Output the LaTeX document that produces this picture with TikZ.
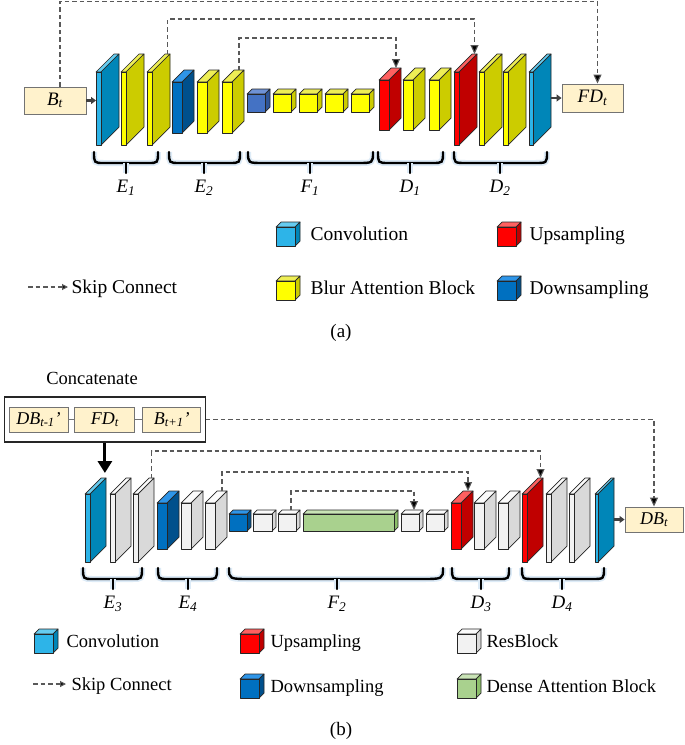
\documentclass[tikz,border=0pt]{standalone}
\usepackage{fontspec}
\setmainfont{Liberation Serif}
\usetikzlibrary{positioning,arrows.meta,fit}

\definecolor{convF}{HTML}{2DB4E8}\definecolor{convS}{HTML}{0086B8}\definecolor{convT}{HTML}{66CCF0}
\definecolor{blurF}{HTML}{FFFF00}\definecolor{blurS}{HTML}{CCCC00}\definecolor{blurT}{HTML}{EEEE55}
\definecolor{upF}{HTML}{FF0000}\definecolor{upS}{HTML}{C00000}\definecolor{upT}{HTML}{FF6060}
\definecolor{downF}{HTML}{0070C0}\definecolor{downS}{HTML}{00508C}\definecolor{downT}{HTML}{2E95E8}
\definecolor{poolF}{HTML}{4472C4}\definecolor{poolS}{HTML}{2F5597}\definecolor{poolT}{HTML}{6E92D6}
\definecolor{resF}{HTML}{F2F2F2}\definecolor{resS}{HTML}{D9D9D9}\definecolor{resT}{HTML}{FBFBFB}
\definecolor{denseF}{HTML}{A9D18E}\definecolor{denseS}{HTML}{8CBF6A}\definecolor{denseT}{HTML}{C9E3B6}
\definecolor{boxfill}{HTML}{FFF2CC}
\definecolor{glow}{HTML}{DDEBF7}
\definecolor{skipgray}{HTML}{595959}

\tikzset{
  edge/.style={draw=black!85, line width=0.7pt, line join=round},
  inbox/.style={draw=black!55, fill=boxfill, line width=0.9pt, minimum height=27pt,
    inner xsep=2pt, font=\fontsize{19}{22}\selectfont\itshape},
  catbox/.style={draw=black!85, line width=1.2pt, inner xsep=4pt, inner ysep=9.5pt},
  link/.style={draw=black!55, line width=0.9pt},
  skip/.style={draw=skipgray, line width=1.1pt, dash pattern=on 4.5pt off 3pt,
    -{Triangle[width=8pt,length=9pt,fill=black]}},
  feed/.style={draw=black!75, line width=2.5pt, -{Triangle[width=7pt,length=5pt]}},
  bigfeed/.style={draw=black, line width=3pt, -{Triangle[width=14pt,length=12pt]}},
  brace/.style={line width=2.4pt, line cap=round, preaction={draw=glow, line width=6pt}},
  lblE/.style={font=\fontsize{19}{22}\selectfont\itshape},
  legtxt/.style={font=\fontsize{19.5}{22}\selectfont, anchor=base west},
  legtxtb/.style={font=\fontsize{18.5}{21}\selectfont, anchor=base west},
  captxt/.style={font=\fontsize{19}{22}\selectfont}
}

\newcommand{\blk}[7]{%
  \draw[edge, fill=#7T] (#2,#3) -- ++(#6,-#6) -- ++(#4,0) -- (#2+#4,#3) -- cycle;
  \draw[edge, fill=#7S] (#2+#4,#3) -- ++(#6,-#6) -- ++(0,#5) -- (#2+#4,#3+#5) -- cycle;
  \draw[edge, fill=#7F] (#2,#3) rectangle ++(#4,#5);
  \coordinate (#1) at (#2+#4/2+#6,#3-#6);
  \coordinate (#1-in) at (#2,#3+#5/2);
  \coordinate (#1-out) at (#2+#4+#6,#3+#5/2-#6);
}
\newcommand{\legcube}[4]{\blk{#1}{#2}{#3}{19}{19}{5}{#4}\coordinate (#1-base) at (#2+24,#3+13);}
\newcommand{\brc}[7]{%
  \draw[brace] (#2,#5) .. controls (#2,#5+11) .. (#2+#6,#5+11) -- (#3-#6,#5+11)
    .. controls (#3,#5+11) .. (#3,#5);
  \draw[brace] (#4,#5+11) -- (#4,#5+21);
  \coordinate (#1-tip) at (#4,#5+21);
  \node[lblE, below=4pt of #1-tip] (#1) {#7};
}

\begin{document}
\begin{tikzpicture}[x=1pt, y=-1pt]
\useasboundingbox[fill=white] (0,0) rectangle (685,745);

\node[inbox, minimum width=62pt] (bt) at (55,100.5) {B\textsubscript{t}};
\node[inbox, minimum width=61pt, minimum height=28pt] (fd) at (592.5,98) {FD\textsubscript{t}};

\blk{e1c}{96}{72}{5}{73}{18}{conv}
\blk{e1b1}{121}{72}{5}{73}{18}{blur}
\blk{e1b2}{147}{72}{5}{73}{18}{blur}
\blk{e2d}{172}{82}{10}{51}{12}{down}
\blk{e2b1}{197}{82}{10}{51}{12}{blur}
\blk{e2b2}{222}{82}{10}{51}{12}{blur}
\blk{f1p}{247}{94}{18}{18}{5}{pool}
\foreach \i/\x in {1/273,2/299,3/325,4/351} {\blk{f1b\i}{\x}{94}{18}{18}{5}{blur}}
\blk{d1u}{379}{80}{10}{50}{12}{up}
\blk{d1b1}{403}{80}{10}{50}{12}{blur}
\blk{d1b2}{429}{80}{10}{50}{12}{blur}
\blk{d2u}{454}{72}{5}{73}{18}{up}
\blk{d2b1}{479}{72}{5}{73}{18}{blur}
\blk{d2b2}{503}{72}{5}{73}{18}{blur}
\blk{d2c}{529}{72}{4}{73}{18}{conv}

\draw[feed] (bt.east) -- (bt.east -| e1c-in);
\draw[feed] (fd.west -| d2c-out) -- (fd.west);

\coordinate (topa) at (0,1.5);
\coordinate (bt-up) at ([xshift=5pt]bt.north);
\coordinate (fd-up) at ([xshift=5pt]fd.north);
\draw[skip] (bt-up) |- (topa -| fd-up) -- (fd-up);
\draw[skip] (e1b2) -- ++(0,-35) -| (d2u);
\draw[skip] (e2b2) -- ++(0,-32) -| (d1u);

\brc{lE1}{94}{158}{126}{152}{10}{E\textsubscript{1}}
\brc{lE2}{169}{240}{204}{152}{11}{E\textsubscript{2}}
\brc{lF1}{248}{373}{310}{152}{15}{F\textsubscript{1}}
\brc{lD1}{378}{443}{410}{152}{11}{D\textsubscript{1}}
\brc{lD2}{454}{547}{500}{152}{12}{D\textsubscript{2}}

\legcube{lgconv}{276}{227}{conv}
\node[legtxt] (tconv) at ([xshift=7pt]lgconv-base) {Convolution};
\legcube{lgup}{497}{227}{up}
\node[legtxt] (tup) at ([xshift=5pt]lgup-base) {Upsampling};
\legcube{lgblur}{276}{281}{blur}
\node[legtxt] (tblur) at ([xshift=7pt]lgblur-base) {Blur Attention Block};
\legcube{lgdown}{497}{281}{down}
\node[legtxt] (tdown) at ([xshift=5pt]lgdown-base) {Downsampling};
\coordinate (ska0) at (28,287);
\coordinate (ska1) at (68,287);
\draw[skip, -{Triangle[width=6pt,length=6pt,fill=black]}] (ska0) -- (ska1);
\node[legtxt] (tska) at ([yshift=-6pt]ska1) {Skip Connect};
\node[captxt] (capa) at (341,333) {(a)};

\node[captxt, font=\fontsize{18.5}{21}\selectfont] (catlbl) at (92,378) {Concatenate};
\node[inbox, minimum width=59pt, minimum height=25pt, font=\fontsize{18}{21}\selectfont\itshape] (dbp) at (38.5,419.5) {DB\textsubscript{t-1}’};
\node[inbox, minimum width=60pt, minimum height=25pt, font=\fontsize{18}{21}\selectfont\itshape, right=6pt of dbp] (fdt) {FD\textsubscript{t}};
\node[inbox, minimum width=58pt, minimum height=25pt, font=\fontsize{18}{21}\selectfont\itshape, right=7pt of fdt] (bnx) {B\textsubscript{t+1}’};
\node[catbox, fit=(dbp)(fdt)(bnx)] (cat) {};
\draw[link] (dbp) -- (fdt);
\draw[link] (fdt) -- (bnx);
\node[inbox, minimum width=58pt, minimum height=25pt, font=\fontsize{18}{21}\selectfont\itshape] (dbt) at (654,519.5) {DB\textsubscript{t}};

\blk{e3c}{85}{494}{5}{68}{16}{conv}
\blk{e3r1}{110}{494}{5}{68}{16}{res}
\blk{e3r2}{133}{494}{5}{68}{16}{res}
\blk{e4d}{157}{503}{10}{46}{12}{down}
\blk{e4r1}{181}{503}{10}{46}{12}{res}
\blk{e4r2}{205}{503}{10}{46}{12}{res}
\blk{f2d}{229}{514}{18}{17}{4}{down}
\blk{f2r1}{253}{514}{19}{17}{4}{res}
\blk{f2r2}{278}{514}{18}{17}{4}{res}
\blk{f2a}{303}{514}{91}{17}{4}{dense}
\blk{f2r3}{401}{514}{18}{17}{4}{res}
\blk{f2r4}{426}{514}{18}{17}{4}{res}
\blk{d3u}{451}{503}{10}{46}{12}{up}
\blk{d3r1}{474}{503}{10}{46}{12}{res}
\blk{d3r2}{498}{503}{10}{46}{12}{res}
\blk{d4u}{522}{494}{5}{68}{16}{up}
\blk{d4r1}{546}{494}{5}{68}{16}{res}
\blk{d4r2}{569}{494}{5}{68}{16}{res}
\blk{d4c}{595}{494}{3}{68}{16}{conv}

\draw[bigfeed, shorten >=5pt] (cat.south) -- (cat.south |- e3c);
\draw[feed] (dbt.west -| d4c-out) -- (dbt.west);
\draw[skip] (cat.east) -| (dbt.north);
\draw[skip] (e3r2) -- ++(0,-27) -| (d4u);
\draw[skip] (e4r2) -- ++(0,-19) -| (d3u);
\draw[skip] (f2r2) -- ++(0,-19) -| (f2r3);

\brc{lE3}{83}{142}{113}{568}{10}{E\textsubscript{3}}
\brc{lE4}{158}{217}{188}{568}{10}{E\textsubscript{4}}
\brc{lF2}{229}{443}{337}{568}{22}{F\textsubscript{2}}
\brc{lD3}{452}{509}{481}{568}{10}{D\textsubscript{3}}
\brc{lD4}{522}{604}{562}{568}{12}{D\textsubscript{4}}

\legcube{lbconv}{34}{634}{conv}
\node[legtxtb] (tbconv) at ([xshift=5pt]lbconv-base) {Convolution};
\legcube{lbup}{240}{634}{up}
\node[legtxtb] (tbup) at ([xshift=3pt]lbup-base) {Upsampling};
\legcube{lbres}{457}{634}{res}
\node[legtxtb] (tbres) at ([xshift=2pt]lbres-base) {ResBlock};
\coordinate (skb0) at (33,684);
\coordinate (skb1) at (66,684);
\draw[skip, -{Triangle[width=6pt,length=6pt,fill=black]}] (skb0) -- (skb1);
\node[legtxtb] (tskb) at ([xshift=2pt, yshift=-6pt]skb1) {Skip Connect};
\legcube{lbdown}{240}{679}{down}
\node[legtxtb] (tbdown) at ([xshift=3pt]lbdown-base) {Downsampling};
\legcube{lbdense}{457}{679}{dense}
\node[legtxtb] (tbdense) at ([xshift=2pt]lbdense-base) {Dense Attention Block};
\node[captxt] (capb) at (341,731) {(b)};
\end{tikzpicture}
\end{document}
